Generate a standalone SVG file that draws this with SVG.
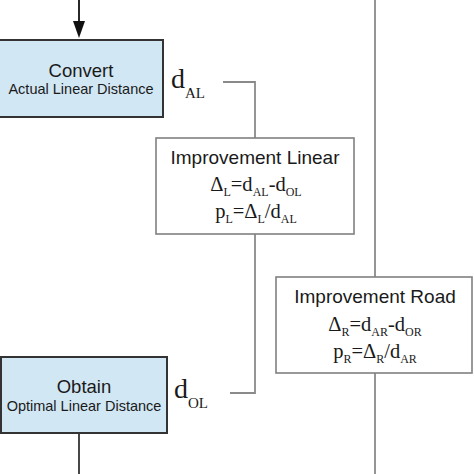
<svg xmlns="http://www.w3.org/2000/svg" width="474" height="474" viewBox="0 0 474 474">
<style>
.blue{fill:#d2e7f4;stroke:#333;stroke-width:2}
.calc{fill:#fff;stroke:#808080;stroke-width:1.6}
.conn{fill:none;stroke:#8a8a8a;stroke-width:1.8}
.sans{font-family:"Liberation Sans",Arial,sans-serif;fill:#1a1a1a;text-anchor:middle}
.serif{font-family:"Liberation Serif","Times New Roman",serif;fill:#1a1a1a}
.sub{font-size:12px}
.big{font-size:28px}
.bigsub{font-size:15px}
</style>
<rect width="474" height="474" fill="#fff"/>
<g id="connectors">
<line x1="79" y1="0" x2="79" y2="22" stroke="#111" stroke-width="1.8"/>
<path d="M73,21 L85,21 L79,38 Z" fill="#111"/>
<polyline class="conn" points="223,82 255,82 255,138"/>
<polyline class="conn" points="255,234 255,393 230,393"/>
<line class="conn" x1="375" y1="0" x2="375" y2="277"/>
<line class="conn" x1="375" y1="373" x2="375" y2="474"/>
<line x1="79" y1="433" x2="79" y2="474" stroke="#333" stroke-width="1.8"/>
</g>
<g id="convert">
<rect class="blue" x="-2" y="40" width="165" height="77"/>
<text class="sans" x="81" y="77" font-size="18.5">Convert</text>
<text class="sans" x="81" y="94" font-size="14.5">Actual Linear Distance</text>
</g>
<g id="dAL">
<text class="serif big" x="171" y="88">d<tspan class="bigsub" dy="10">AL</tspan></text>
</g>
<g id="improvement-linear">
<rect class="calc" x="156" y="138" width="198" height="96"/>
<text class="sans" x="255" y="164" font-size="19">Improvement Linear</text>
<text class="serif" x="256" y="191" font-size="20.5" text-anchor="middle">Δ<tspan class="sub" dy="5">L</tspan><tspan dy="-5">=d</tspan><tspan class="sub" dy="5">AL</tspan><tspan dy="-5">-d</tspan><tspan class="sub" dy="5">OL</tspan></text>
<text class="serif" x="256" y="218" font-size="20.5" text-anchor="middle">p<tspan class="sub" dy="5">L</tspan><tspan dy="-5">=Δ</tspan><tspan class="sub" dy="5">L</tspan><tspan dy="-5">/d</tspan><tspan class="sub" dy="5">AL</tspan></text>
</g>
<g id="improvement-road">
<rect class="calc" x="276" y="277" width="196" height="96"/>
<text class="sans" x="375" y="303" font-size="19">Improvement Road</text>
<text class="serif" x="375" y="331" font-size="20.5" text-anchor="middle">Δ<tspan class="sub" dy="5">R</tspan><tspan dy="-5">=d</tspan><tspan class="sub" dy="5">AR</tspan><tspan dy="-5">-d</tspan><tspan class="sub" dy="5">OR</tspan></text>
<text class="serif" x="375" y="358" font-size="20.5" text-anchor="middle">p<tspan class="sub" dy="5">R</tspan><tspan dy="-5">=Δ</tspan><tspan class="sub" dy="5">R</tspan><tspan dy="-5">/d</tspan><tspan class="sub" dy="5">AR</tspan></text>
</g>
<g id="obtain">
<rect class="blue" x="1" y="357" width="166" height="76"/>
<text class="sans" x="84" y="393" font-size="18.5">Obtain</text>
<text class="sans" x="84" y="411" font-size="14.5">Optimal Linear Distance</text>
</g>
<g id="dOL">
<text class="serif big" x="174" y="398">d<tspan class="bigsub" dy="10">OL</tspan></text>
</g>
</svg>
